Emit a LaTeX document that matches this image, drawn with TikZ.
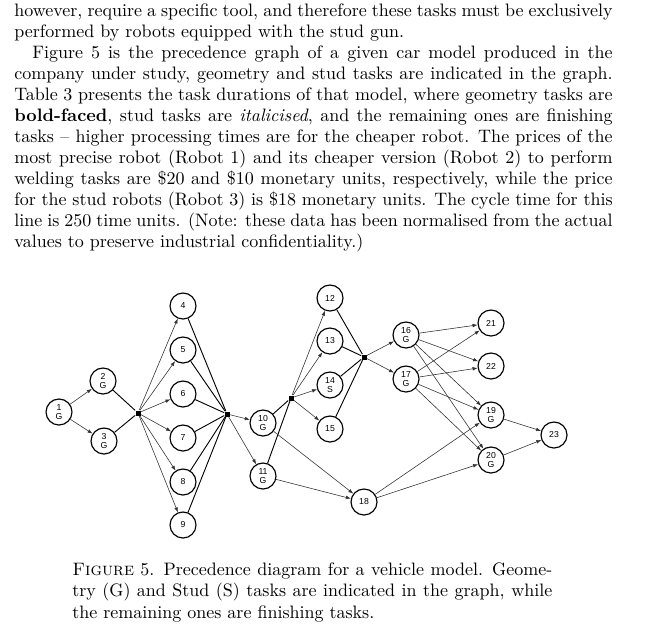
\documentclass[tikz,border=0pt]{standalone}
\usepackage{fontspec}
\newfontfamily\nodefont{Liberation Sans}
\usetikzlibrary{arrows.meta}
\begin{document}
\begin{tikzpicture}[x=0.6pt,y=-0.6pt,
  task/.style={circle,draw,line width=0.7pt,minimum size=15.6pt,inner sep=0pt,font=\nodefont\fontsize{5.2}{5.4}\selectfont,align=center},
  jn/.style={fill,inner sep=0pt,minimum size=3pt},
  arr/.style={-{Latex[length=3pt,width=2.2pt]},line width=0.35pt,draw=black!80},
  ln/.style={line width=0.55pt}]
\useasboundingbox (0,0) rectangle (657,627);
\node[anchor=north west,inner sep=0pt,text width=359pt,align=justify,font=\fontsize{10.8}{12.6}\selectfont] (para) at (14,3) {%
however, require a specific tool, and therefore these tasks must be exclusively\linebreak
performed by robots equipped with the stud gun.\par
\hspace*{1em}Figure 5 is the precedence graph of a given car model produced in the\linebreak
company under study, geometry and stud tasks are indicated in the graph.\linebreak
Table 3 presents the task durations of that model, where geometry tasks are\linebreak
\textbf{bold-faced}, stud tasks are \textit{italicised}, and the remaining ones are finishing\linebreak
tasks -- higher processing times are for the cheaper robot. The prices of the\linebreak
most precise robot (Robot 1) and its cheaper version (Robot 2) to perform\linebreak
welding tasks are \$20 and \$10 monetary units, respectively, while the price\linebreak
for the stud robots (Robot 3) is \$18 monetary units. The cycle time for this\linebreak
line is 250 time units. (Note: these data has been normalised from the actual\linebreak
values to preserve industrial confidentiality.)};
\node[anchor=north west,inner sep=0pt,text width=288pt,align=justify,font=\fontsize{10.8}{12.9}\selectfont] (cap) at (72,562) {%
\textsc{Figure} 5. Precedence diagram for a vehicle model. Geome-\linebreak
try (G) and Stud (S) tasks are indicated in the graph, while\linebreak
the remaining ones are finishing tasks.};
% nodes
\node[task] (n1) at (59,412) {1\\G};
\node[task] (n2) at (103,381) {2\\G};
\node[task] (n3) at (104,441) {3\\G};
\node[jn] (j1) at (138,413) {};
\node[task] (n4) at (183,306) {4};
\node[task] (n5) at (183,350) {5};
\node[task] (n6) at (183,394) {6};
\node[task] (n7) at (183,438) {7};
\node[task] (n8) at (183,482) {8};
\node[task] (n9) at (183,525) {9};
\node[jn] (j2) at (227,414) {};
\node[task] (n10) at (263,423) {10\\G};
\node[task] (n11) at (263,476) {11\\G};
\node[jn] (j3) at (291,398) {};
\node[task] (n12) at (330,298) {12};
\node[task] (n13) at (330,341) {13};
\node[task] (n14) at (330,385) {14\\S};
\node[task] (n15) at (330,429) {15};
\node[jn] (j4) at (364,357) {};
\node[task] (n16) at (406,335) {16\\G};
\node[task] (n17) at (406,379) {17\\G};
\node[task] (n18) at (364,502) {18};
\node[task] (n21) at (491,323) {21};
\node[task] (n22) at (491,366) {22};
\node[task] (n19) at (491,415) {19\\G};
\node[task] (n20) at (491,460) {20\\G};
\node[task] (n23) at (554,435) {23};
% edges
\draw[arr] (n1) -- (n2);
\draw[arr] (n1) -- (n3);
\foreach \a in {n2,n3} \draw[ln] (\a) -- (j1);
\foreach \b in {n4,n5,n6,n7,n8,n9} {\draw[arr] (j1) -- (\b); \draw[ln] (\b) -- (j2);}
\draw[arr] (j2) -- (n10);
\draw[arr] (j2) -- (n11);
\foreach \a in {n10,n11} \draw[ln] (\a) -- (j3);
\foreach \b in {n12,n13,n14,n15} {\draw[arr] (j3) -- (\b); \draw[ln] (\b) -- (j4);}
\draw[arr] (j4) -- (n16);
\draw[arr] (j4) -- (n17);
\draw[arr] (n10) -- (n18);
\draw[arr] (n11) -- (n18);
\foreach \a in {n16,n17} \foreach \b in {n21,n22,n19,n20} \draw[arr] (\a) -- (\b);
\draw[arr] (n18) -- (n19);
\draw[arr] (n18) -- (n20);
\draw[arr] (n19) -- (n23);
\draw[arr] (n20) -- (n23);
\end{tikzpicture}
\end{document}
